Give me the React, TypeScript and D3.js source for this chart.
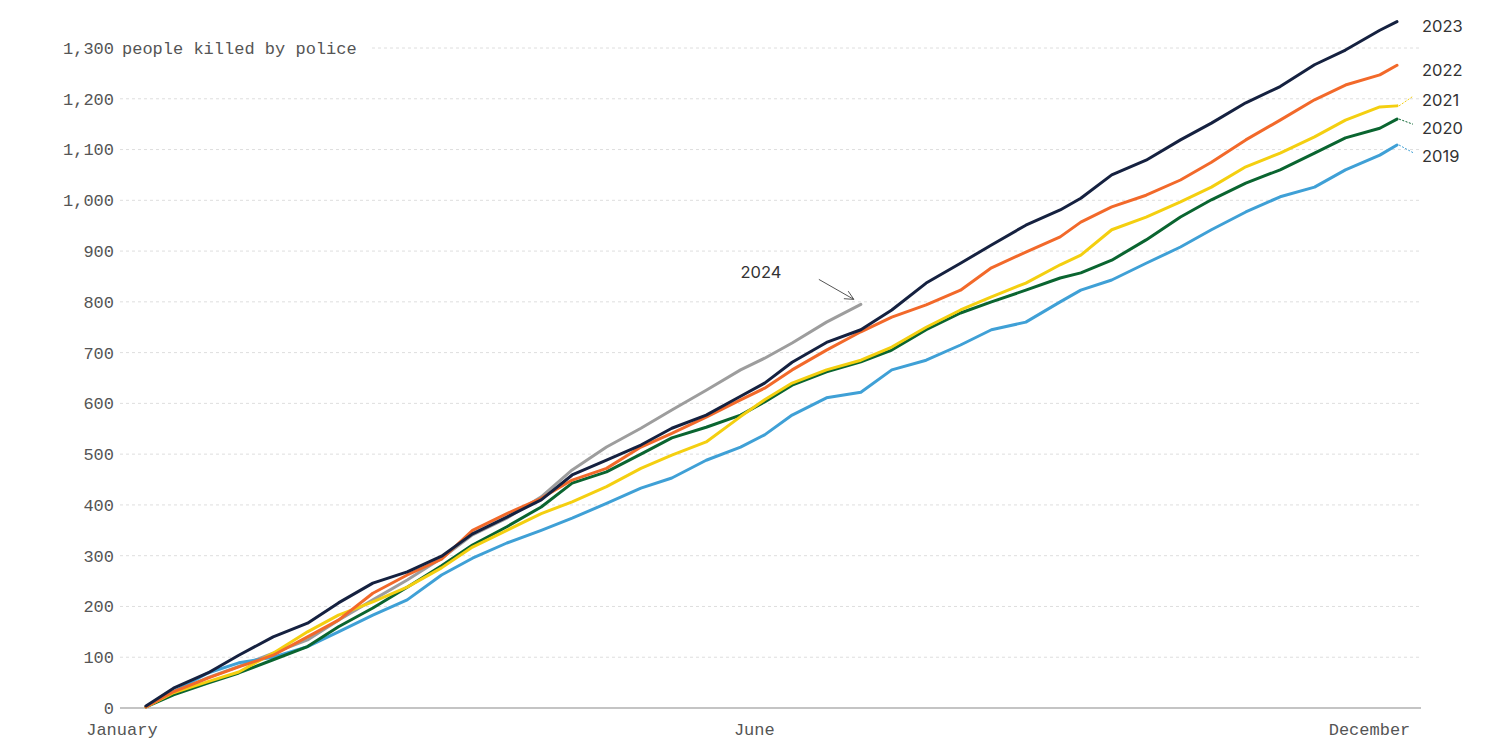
import React from "react";
import * as d3 from "d3";

// Day-of-year sample points shared by every series
const days = [0, 8, 18, 27, 37, 47, 56, 66, 76, 86, 95, 105, 115, 124, 134, 144, 153, 163, 173, 180, 188, 198, 208, 217, 227, 237, 246, 256, 266, 272, 281, 291, 301, 310, 320, 330, 340, 349, 359, 364];

const v2019 = [3, 32, 69, 89, 100, 121, 150, 183, 213, 262, 295, 325, 350, 374, 403, 433, 453, 488, 514, 538, 577, 611, 622, 666, 685, 715, 745, 760, 800, 823, 843, 876, 908, 942, 977, 1007, 1026, 1060, 1089, 1109];
const v2020 = [2, 26, 49, 69, 95, 121, 160, 197, 238, 280, 321, 357, 396, 443, 465, 500, 532, 553, 577, 603, 636, 662, 682, 705, 745, 778, 800, 823, 847, 857, 882, 922, 967, 1001, 1034, 1060, 1093, 1123, 1142, 1160];
const v2021 = [2, 30, 52, 71, 108, 150, 183, 209, 238, 276, 317, 350, 383, 406, 436, 472, 498, 524, 574, 607, 640, 666, 685, 711, 750, 784, 810, 837, 873, 892, 942, 967, 997, 1026, 1066, 1093, 1125, 1158, 1184, 1186];
const v2022 = [2, 32, 59, 81, 104, 140, 173, 226, 262, 293, 350, 383, 413, 449, 472, 514, 541, 573, 607, 630, 666, 705, 741, 770, 794, 823, 867, 898, 928, 957, 987, 1010, 1040, 1075, 1119, 1158, 1198, 1227, 1247, 1266];
const v2023 = [4, 39, 69, 104, 140, 167, 207, 246, 268, 299, 343, 376, 410, 459, 488, 518, 551, 577, 614, 640, 681, 720, 745, 784, 837, 876, 912, 951, 981, 1004, 1050, 1079, 1119, 1152, 1192, 1224, 1267, 1296, 1335, 1352];
const v2024 = [3, 30, 60, 82, 108, 134, 173, 213, 252, 295, 341, 374, 416, 469, 514, 551, 587, 626, 666, 689, 719, 760, 795];

const yTicks = [0, 100, 200, 300, 400, 500, 600, 700, 800, 900, 1000, 1100, 1200, 1300];
const xTickLabels = ["January", "June", "December"];
const xTickDays = [-7, 177, 356];

const seriesNames = ["2024", "2019", "2020", "2021", "2022", "2023"];
const seriesValues = [v2024, v2019, v2020, v2021, v2022, v2023];
const seriesColors = ["#9d9d9d", "#3fa0d6", "#0a6530", "#f4cf10", "#f2692a", "#152140"];

// Right-hand labels (value position where label sits)
const labelNames = ["2023", "2022", "2021", "2020", "2019"];
const labelValues = [1342, 1256, 1197, 1142, 1086];

export default function App() {
  const W = 1500, H = 750;
  const x = d3.scaleLinear().domain([0, 364]).range([146, 1397]);
  const y = d3.scaleLinear().domain([0, 1300]).range([708, 48]);
  const axisLeft = 120, axisRight = 1421;
  const mono = "'Liberation Mono', 'DejaVu Sans Mono', monospace";
  const sans = "Inter, 'Noto Sans', sans-serif";

  const line = d3
    .line<[number, number]>()
    .x((d) => x(d[0]))
    .y((d) => y(d[1]))
    .curve(d3.curveLinear);

  const seriesPts = seriesValues.map((vals) => vals.map((v, i) => [days[i], v] as [number, number]));
  const byName: Record<string, [number, number][]> = {};
  seriesNames.forEach((n, i) => (byName[n] = seriesPts[i]));
  const colorBy: Record<string, string> = {};
  seriesNames.forEach((n, i) => (colorBy[n] = seriesColors[i]));

  const end2024 = byName["2024"][byName["2024"].length - 1];
  const ax = x(end2024[0]) - 7, ay = y(end2024[1]) - 5;
  const sx = ax - 35, sy = ay - 20;
  const ang = Math.atan2(ay - sy, ax - sx);
  const ah = 10;

  return (
    <svg width={W} height={H} style={{ position: "absolute", left: 0, top: 0, background: "#fff" }}>
      {/* gridlines */}
      {yTicks.map((t) =>
        t === 0 ? null : (
          <line
            key={"g" + t}
            x1={t === 1300 ? 372 : axisLeft}
            x2={axisRight}
            y1={y(t)}
            y2={y(t)}
            stroke="#dedede"
            strokeWidth={1}
            strokeDasharray="3,3"
          />
        )
      )}
      {/* y tick labels */}
      {yTicks.map((t) => (
        <text
          key={"yl" + t}
          x={114}
          y={y(t)}
          dy="0.35em"
          textAnchor="end"
          fontFamily={mono}
          fontSize={17}
          fill="#555"
        >
          {d3.format(",")(t)}
        </text>
      ))}
      <text x={122} y={y(1300)} dy="0.35em" fontFamily={mono} fontSize={17} fill="#555">
        people killed by police
      </text>
      {/* x axis */}
      <line x1={axisLeft} x2={axisRight} y1={y(0)} y2={y(0)} stroke="#8a8a8a" strokeWidth={1.2} />
      {xTickLabels.map((lab, i) => (
        <text
          key={lab}
          x={x(xTickDays[i])}
          y={729}
          dy="0.35em"
          textAnchor="middle"
          fontFamily={mono}
          fontSize={17}
          fill="#555"
        >
          {lab}
        </text>
      ))}
      {/* series */}
      {seriesNames.map((n, i) => (
        <path
          key={n}
          d={line(seriesPts[i]) || ""}
          fill="none"
          stroke={seriesColors[i]}
          strokeWidth={3}
          strokeLinejoin="round"
          strokeLinecap="round"
        />
      ))}
      {/* right labels with leaders */}
      {labelNames.map((n, i) => {
        const pts = byName[n];
        const last = pts[pts.length - 1];
        const ly = y(labelValues[i]);
        const needLeader = n === "2021" || n === "2020" || n === "2019";
        return (
          <g key={"lab" + n}>
            {needLeader && (
              <line
                x1={x(last[0]) + 2}
                y1={y(last[1])}
                x2={1413}
                y2={ly - 4}
                stroke={colorBy[n]}
                strokeWidth={1}
                strokeDasharray="2,1.5"
              />
            )}
            <text x={1422} y={ly} dy="0.35em" fontFamily={sans} fontSize={16.5} fill="#333">
              {n}
            </text>
          </g>
        );
      })}
      {/* 2024 annotation */}
      <text x={761} y={272} dy="0.35em" textAnchor="middle" fontFamily={sans} fontSize={16.5} fill="#333">
        2024
      </text>
      <line x1={sx} y1={sy} x2={ax} y2={ay} stroke="#555" strokeWidth={1} />
      <polyline
        points={`${ax - ah * Math.cos(ang - 0.45)},${ay - ah * Math.sin(ang - 0.45)} ${ax},${ay} ${ax - ah * Math.cos(ang + 0.45)},${ay - ah * Math.sin(ang + 0.45)}`}
        fill="none"
        stroke="#555"
        strokeWidth={1}
      />
    </svg>
  );
}
